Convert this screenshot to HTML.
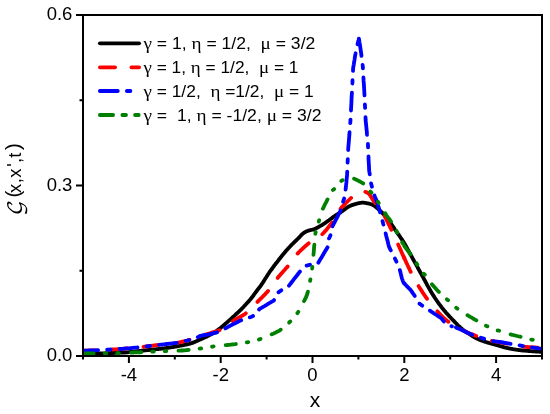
<!DOCTYPE html>
<html><head><meta charset="utf-8"><title>plot</title>
<style>html,body{margin:0;padding:0;background:#fff;width:550px;height:414px;overflow:hidden}svg{display:block}</style>
</head><body>
<svg width="550" height="414" viewBox="0 0 550 414">
<rect width="550" height="414" fill="#fff"/>
<defs><clipPath id="c"><rect x="83" y="13" width="459" height="343"/></clipPath></defs>
<g clip-path="url(#c)" fill="none" stroke-width="3.8" stroke-linecap="round" stroke-linejoin="round">
<path d="M83.0,353.5 83.6,353.5 84.3,353.5 85.2,353.5 86.1,353.5 87.1,353.5 88.2,353.5 89.4,353.5 90.6,353.5 91.8,353.5 93.0,353.5 94.3,353.5 95.5,353.5 96.7,353.4 97.9,353.4 99.0,353.4 100.0,353.4 101.0,353.4 102.0,353.4 103.0,353.3 104.0,353.3 105.0,353.3 105.9,353.2 106.9,353.2 107.9,353.2 108.8,353.1 109.7,353.1 110.7,353.1 111.6,353.0 112.4,353.0 113.3,353.0 114.2,352.9 115.0,352.9 115.8,352.9 116.6,352.8 117.3,352.8 118.0,352.8 118.7,352.8 119.4,352.8 120.1,352.7 120.7,352.7 121.4,352.7 122.0,352.7 122.7,352.6 123.4,352.6 124.1,352.6 124.8,352.5 125.5,352.5 126.3,352.4 127.1,352.3 127.9,352.3 128.7,352.2 129.6,352.1 130.5,352.0 131.3,351.9 132.2,351.8 133.1,351.7 134.0,351.6 134.9,351.5 135.8,351.4 136.7,351.3 137.5,351.2 138.4,351.1 139.2,351.0 140.0,350.9 140.8,350.8 141.6,350.7 142.3,350.7 143.1,350.6 143.8,350.5 144.6,350.4 145.3,350.4 146.0,350.3 146.7,350.2 147.5,350.1 148.2,350.1 148.9,350.0 149.6,349.9 150.3,349.9 151.1,349.8 151.8,349.7 152.5,349.6 153.3,349.5 154.0,349.5 154.7,349.4 155.5,349.3 156.2,349.2 157.0,349.2 157.7,349.1 158.4,349.0 159.2,348.9 159.9,348.8 160.6,348.8 161.4,348.7 162.1,348.6 162.9,348.5 163.6,348.4 164.3,348.3 165.1,348.2 165.8,348.1 166.6,348.0 167.3,347.9 168.1,347.8 168.8,347.7 169.6,347.6 170.3,347.4 171.0,347.3 171.8,347.2 172.5,347.1 173.3,347.0 174.0,346.9 174.8,346.7 175.5,346.6 176.3,346.5 177.0,346.3 177.8,346.2 178.6,346.0 179.4,345.9 180.2,345.7 181.0,345.6 181.8,345.4 182.6,345.3 183.3,345.1 184.1,345.0 184.8,344.8 185.5,344.7 186.1,344.6 186.7,344.4 187.3,344.3 187.8,344.2 188.3,344.1 188.8,344.0 189.2,343.9 189.5,343.8 189.9,343.7 190.2,343.6 190.6,343.5 190.9,343.4 191.2,343.3 191.5,343.2 191.8,343.1 192.1,343.0 192.5,342.9 192.8,342.7 193.2,342.6 193.6,342.4 194.0,342.3 194.4,342.1 194.8,342.0 195.2,341.8 195.6,341.6 196.0,341.4 196.4,341.2 196.9,341.0 197.3,340.8 197.7,340.6 198.2,340.4 198.6,340.2 199.1,340.0 199.5,339.8 200.0,339.6 200.5,339.4 201.0,339.2 201.5,338.9 202.0,338.7 202.5,338.5 203.0,338.3 203.6,338.0 204.1,337.8 204.6,337.5 205.2,337.3 205.7,337.0 206.3,336.8 206.8,336.5 207.3,336.2 207.9,336.0 208.4,335.7 208.9,335.4 209.5,335.1 210.0,334.9 210.5,334.6 211.1,334.3 211.6,334.0 212.1,333.7 212.7,333.4 213.2,333.1 213.7,332.8 214.2,332.4 214.8,332.1 215.3,331.8 215.8,331.4 216.4,331.1 216.9,330.7 217.4,330.3 218.0,329.9 218.5,329.5 219.0,329.1 219.5,328.7 220.1,328.3 220.6,327.9 221.1,327.5 221.6,327.0 222.1,326.6 222.7,326.1 223.2,325.7 223.7,325.3 224.2,324.8 224.8,324.4 225.3,323.9 225.8,323.4 226.4,323.0 226.9,322.5 227.5,322.0 228.0,321.5 228.6,321.0 229.1,320.5 229.7,320.0 230.2,319.5 230.8,319.1 231.3,318.6 231.8,318.1 232.3,317.6 232.8,317.2 233.3,316.7 233.8,316.3 234.3,315.9 234.7,315.5 235.2,315.0 235.6,314.6 236.0,314.2 236.5,313.8 236.9,313.4 237.3,313.1 237.7,312.7 238.1,312.3 238.4,312.0 238.8,311.7 239.1,311.3 239.4,311.0 239.7,310.8 240.0,310.5 240.2,310.3 240.4,310.1 240.6,310.0 240.7,309.9 240.8,309.8 240.8,309.7 240.9,309.7 241.0,309.6 241.0,309.6 241.1,309.5 241.2,309.4 241.3,309.3 241.4,309.1 241.6,308.9 241.9,308.6 242.2,308.3 242.6,307.9 243.0,307.5 243.5,307.0 244.0,306.4 244.5,305.8 245.1,305.2 245.6,304.6 246.2,303.9 246.9,303.3 247.5,302.6 248.1,301.9 248.7,301.3 249.2,300.6 249.8,300.0 250.3,299.4 250.8,298.8 251.3,298.2 251.7,297.7 252.1,297.1 252.6,296.6 253.0,296.0 253.4,295.5 253.8,295.0 254.1,294.4 254.5,293.9 254.9,293.4 255.3,292.9 255.6,292.4 256.0,291.9 256.3,291.4 256.7,291.0 257.0,290.5 257.3,290.1 257.6,289.7 257.9,289.3 258.2,288.9 258.5,288.6 258.7,288.3 259.0,287.9 259.3,287.6 259.5,287.3 259.8,286.9 260.1,286.6 260.4,286.2 260.7,285.8 261.0,285.3 261.3,284.8 261.7,284.3 262.1,283.7 262.5,283.1 262.9,282.5 263.3,281.8 263.8,281.1 264.2,280.3 264.7,279.6 265.2,278.8 265.7,278.0 266.2,277.3 266.7,276.5 267.2,275.7 267.7,274.9 268.2,274.1 268.8,273.3 269.3,272.5 269.8,271.7 270.4,270.9 271.0,270.1 271.6,269.3 272.2,268.5 272.8,267.7 273.4,266.8 274.0,266.0 274.6,265.2 275.3,264.3 275.9,263.5 276.5,262.7 277.2,261.9 277.8,261.1 278.4,260.3 279.0,259.5 279.6,258.7 280.2,258.0 280.8,257.2 281.4,256.5 282.0,255.7 282.6,255.0 283.2,254.2 283.8,253.5 284.5,252.8 285.1,252.0 285.7,251.3 286.3,250.6 286.9,249.9 287.5,249.2 288.1,248.6 288.7,247.9 289.3,247.2 290.0,246.6 290.6,245.9 291.3,245.2 291.9,244.5 292.6,243.9 293.3,243.2 293.9,242.6 294.6,241.9 295.2,241.3 295.8,240.7 296.4,240.2 296.9,239.6 297.5,239.1 298.0,238.6 298.4,238.2 298.8,237.8 299.2,237.4 299.5,237.1 299.8,236.8 300.0,236.5 300.3,236.2 300.5,236.0 300.7,235.7 300.9,235.5 301.1,235.3 301.2,235.1 301.4,234.9 301.6,234.8 301.8,234.6 302.0,234.4 302.2,234.2 302.4,234.0 302.6,233.8 302.8,233.7 303.0,233.5 303.2,233.3 303.4,233.2 303.6,233.0 303.8,232.9 304.0,232.8 304.2,232.6 304.4,232.5 304.6,232.4 304.8,232.3 305.1,232.1 305.3,232.0 305.5,231.9 305.7,231.8 306.0,231.7 306.2,231.5 306.4,231.4 306.7,231.3 306.9,231.2 307.2,231.1 307.4,231.0 307.7,230.9 307.9,230.8 308.2,230.7 308.5,230.6 308.7,230.6 309.0,230.5 309.2,230.4 309.5,230.3 309.8,230.2 310.0,230.2 310.3,230.1 310.6,230.0 310.8,230.0 311.1,229.9 311.4,229.9 311.6,229.8 311.9,229.8 312.2,229.7 312.5,229.7 312.7,229.6 313.0,229.5 313.3,229.5 313.5,229.4 313.8,229.3 314.1,229.2 314.3,229.1 314.6,229.0 314.8,228.9 315.1,228.8 315.3,228.7 315.5,228.6 315.8,228.5 316.0,228.3 316.3,228.2 316.6,228.1 316.8,227.9 317.1,227.8 317.4,227.6 317.7,227.5 318.0,227.3 318.3,227.1 318.7,226.9 319.0,226.7 319.4,226.5 319.7,226.3 320.1,226.1 320.5,225.9 320.9,225.6 321.3,225.4 321.7,225.2 322.1,224.9 322.5,224.7 322.8,224.4 323.2,224.2 323.6,223.9 324.0,223.7 324.4,223.5 324.8,223.2 325.1,222.9 325.5,222.7 325.9,222.4 326.3,222.1 326.7,221.9 327.1,221.6 327.4,221.3 327.8,221.1 328.2,220.8 328.6,220.5 328.9,220.3 329.3,220.0 329.7,219.7 330.0,219.5 330.3,219.3 330.7,219.0 331.0,218.8 331.3,218.5 331.6,218.3 331.9,218.1 332.2,217.9 332.5,217.6 332.8,217.4 333.1,217.2 333.4,217.0 333.7,216.7 334.0,216.5 334.3,216.3 334.7,216.0 335.0,215.8 335.4,215.6 335.7,215.3 336.1,215.1 336.5,214.8 336.8,214.6 337.2,214.4 337.6,214.1 338.0,213.9 338.4,213.6 338.8,213.4 339.2,213.1 339.6,212.9 340.0,212.6 340.5,212.4 340.9,212.1 341.3,211.8 341.7,211.5 342.2,211.2 342.6,210.9 343.1,210.5 343.5,210.2 344.0,209.9 344.4,209.5 344.9,209.2 345.4,208.8 345.8,208.5 346.3,208.1 346.7,207.8 347.2,207.5 347.6,207.2 348.1,206.9 348.5,206.7 348.9,206.5 349.3,206.3 349.8,206.1 350.2,205.9 350.6,205.7 351.0,205.5 351.4,205.4 351.8,205.2 352.2,205.1 352.6,204.9 353.0,204.8 353.4,204.7 353.8,204.6 354.2,204.4 354.6,204.3 355.0,204.2 355.4,204.1 355.9,203.9 356.3,203.8 356.7,203.7 357.2,203.6 357.6,203.5 358.0,203.3 358.5,203.2 358.9,203.1 359.4,203.0 359.8,203.0 360.3,202.9 360.7,202.8 361.1,202.8 361.6,202.7 362.0,202.7 362.4,202.7 362.9,202.7 363.3,202.7 363.7,202.7 364.2,202.8 364.6,202.8 365.1,202.9 365.5,202.9 365.9,203.0 366.3,203.1 366.8,203.2 367.2,203.3 367.6,203.3 368.0,203.4 368.3,203.5 368.7,203.6 369.0,203.7 369.4,203.7 369.7,203.8 370.0,203.9 370.3,203.9 370.5,204.0 370.8,204.1 371.1,204.1 371.3,204.2 371.6,204.3 371.9,204.4 372.2,204.6 372.5,204.7 372.8,204.9 373.1,205.1 373.5,205.3 373.9,205.6 374.3,205.8 374.7,206.1 375.1,206.5 375.6,206.8 376.0,207.1 376.5,207.5 376.9,207.9 377.4,208.3 377.9,208.7 378.4,209.1 378.8,209.6 379.3,210.0 379.8,210.4 380.2,210.9 380.7,211.3 381.2,211.7 381.6,212.2 382.1,212.6 382.5,213.1 383.0,213.6 383.5,214.1 383.9,214.6 384.4,215.1 384.8,215.6 385.3,216.1 385.8,216.6 386.2,217.1 386.7,217.6 387.1,218.2 387.6,218.7 388.0,219.3 388.4,219.9 388.9,220.4 389.3,221.0 389.7,221.6 390.1,222.2 390.5,222.8 390.9,223.4 391.3,224.0 391.7,224.6 392.1,225.3 392.6,225.9 393.0,226.6 393.4,227.2 393.9,227.9 394.3,228.6 394.8,229.3 395.3,230.0 395.8,230.7 396.3,231.5 396.8,232.2 397.4,233.0 397.9,233.8 398.5,234.5 399.1,235.3 399.6,236.1 400.2,236.9 400.7,237.7 401.3,238.6 401.8,239.4 402.4,240.2 402.9,241.0 403.4,241.8 403.9,242.6 404.4,243.4 404.8,244.2 405.3,244.9 405.7,245.7 406.1,246.5 406.6,247.3 407.0,248.1 407.4,248.9 407.9,249.7 408.3,250.5 408.8,251.4 409.3,252.3 409.8,253.2 410.3,254.2 410.9,255.2 411.5,256.3 412.1,257.4 412.7,258.5 413.4,259.7 414.0,260.9 414.7,262.1 415.4,263.4 416.1,264.6 416.8,265.9 417.5,267.2 418.2,268.5 418.9,269.8 419.6,271.0 420.3,272.3 421.0,273.6 421.7,274.8 422.4,276.0 423.1,277.3 423.7,278.5 424.4,279.8 425.1,281.0 425.8,282.3 426.5,283.6 427.1,284.8 427.8,286.1 428.5,287.3 429.2,288.5 429.9,289.7 430.6,290.9 431.2,292.1 431.9,293.2 432.6,294.3 433.3,295.4 434.0,296.4 434.6,297.5 435.3,298.5 436.0,299.5 436.7,300.5 437.4,301.5 438.0,302.4 438.7,303.3 439.4,304.3 440.1,305.2 440.8,306.1 441.4,307.0 442.1,307.9 442.8,308.7 443.5,309.6 444.2,310.5 444.9,311.3 445.6,312.1 446.3,313.0 447.1,313.8 447.8,314.6 448.5,315.4 449.3,316.2 450.0,317.0 450.7,317.7 451.4,318.5 452.1,319.2 452.7,319.9 453.4,320.5 454.0,321.2 454.6,321.8 455.2,322.4 455.7,323.0 456.2,323.5 456.8,324.0 457.2,324.5 457.7,325.0 458.2,325.5 458.6,325.9 459.1,326.3 459.5,326.7 460.0,327.2 460.4,327.6 460.8,327.9 461.3,328.3 461.7,328.7 462.2,329.1 462.7,329.5 463.1,329.8 463.6,330.2 464.0,330.5 464.5,330.9 465.0,331.2 465.4,331.5 465.9,331.8 466.3,332.1 466.8,332.4 467.2,332.7 467.7,332.9 468.1,333.2 468.6,333.5 469.0,333.8 469.5,334.1 470.0,334.4 470.4,334.7 470.9,335.0 471.3,335.3 471.8,335.6 472.2,335.9 472.7,336.1 473.1,336.4 473.5,336.7 474.0,337.0 474.4,337.3 474.9,337.5 475.3,337.8 475.8,338.0 476.2,338.3 476.7,338.5 477.2,338.7 477.6,338.9 478.1,339.1 478.5,339.3 479.0,339.5 479.4,339.7 479.9,339.9 480.4,340.1 480.8,340.3 481.3,340.4 481.7,340.6 482.2,340.8 482.6,340.9 483.1,341.1 483.5,341.2 484.0,341.4 484.5,341.6 484.9,341.7 485.4,341.9 485.8,342.0 486.3,342.1 486.7,342.3 487.2,342.4 487.6,342.6 488.0,342.7 488.5,342.8 488.9,343.0 489.4,343.1 489.8,343.2 490.3,343.3 490.7,343.5 491.2,343.6 491.7,343.7 492.1,343.9 492.6,344.0 493.0,344.1 493.5,344.2 493.9,344.4 494.4,344.5 494.9,344.6 495.3,344.7 495.8,344.9 496.2,345.0 496.7,345.1 497.2,345.2 497.6,345.4 498.1,345.5 498.5,345.6 498.9,345.7 499.4,345.9 499.8,346.0 500.2,346.1 500.6,346.2 501.0,346.4 501.4,346.5 501.8,346.6 502.2,346.7 502.6,346.9 503.0,347.0 503.4,347.1 503.9,347.2 504.4,347.4 504.9,347.5 505.4,347.6 506.0,347.7 506.5,347.9 507.1,348.0 507.8,348.1 508.4,348.3 509.0,348.4 509.7,348.5 510.4,348.7 511.1,348.8 511.7,348.9 512.4,349.0 513.1,349.2 513.8,349.3 514.5,349.4 515.1,349.5 515.8,349.6 516.4,349.7 517.1,349.8 517.7,349.9 518.3,350.0 518.9,350.0 519.5,350.1 520.1,350.2 520.7,350.3 521.3,350.3 521.9,350.4 522.6,350.5 523.2,350.5 523.9,350.6 524.6,350.7 525.4,350.7 526.2,350.8 527.1,350.9 528.0,350.9 529.1,351.0 530.1,351.1 531.3,351.2 532.4,351.3 533.6,351.3 534.8,351.4 535.9,351.5 537.0,351.6 538.0,351.6 539.0,351.7 539.9,351.8 540.7,351.8 541.4,351.9 542.0,351.9" stroke="#000"/>
<path d="M83.0,350.8 83.6,350.8 84.3,350.7 85.1,350.7 86.0,350.7 86.9,350.6 88.0,350.6 89.1,350.6 90.2,350.5 91.4,350.5 92.6,350.4 93.8,350.4 95.1,350.3 96.3,350.3 97.4,350.2 98.6,350.2 99.7,350.1 100.8,350.1 101.9,350.0 103.0,350.0 104.1,349.9 105.2,349.9 106.3,349.8 107.4,349.8 108.5,349.7 109.7,349.6 110.8,349.6 111.9,349.5 113.0,349.5 114.2,349.4 115.3,349.3 116.4,349.3 117.5,349.2 118.6,349.1 119.8,349.0 120.9,349.0 122.1,348.9 123.3,348.8 124.5,348.7 125.6,348.6 126.8,348.5 128.0,348.4 129.1,348.3 130.2,348.2 131.3,348.1 132.3,348.0 133.3,347.9 134.3,347.8 135.2,347.7 136.0,347.6 136.8,347.5 137.5,347.5 138.2,347.4 138.8,347.3 139.4,347.3 139.9,347.2 140.5,347.1 141.0,347.1 141.6,347.0 142.2,346.9 142.8,346.9 143.5,346.8 144.2,346.7 145.0,346.6 145.8,346.5 146.7,346.4 147.7,346.3 148.8,346.1 149.9,346.0 151.0,345.9 152.2,345.7 153.4,345.6 154.6,345.4 155.8,345.2 157.0,345.1 158.2,344.9 159.4,344.8 160.5,344.7 161.6,344.5 162.6,344.4 163.6,344.3 164.5,344.2 165.4,344.1 166.2,344.0 167.0,344.0 167.8,343.9 168.5,343.8 169.2,343.8 169.9,343.7 170.6,343.7 171.3,343.6 172.0,343.5 172.7,343.5 173.4,343.4 174.1,343.3 174.8,343.2 175.5,343.1 176.2,343.0 177.0,342.8 177.8,342.7 178.5,342.6 179.3,342.4 180.0,342.2 180.8,342.1 181.6,341.9 182.3,341.7 183.1,341.5 183.8,341.4 184.5,341.2 185.2,341.0 185.9,340.8 186.6,340.7 187.3,340.5 188.0,340.3 188.6,340.2 189.2,340.0 189.8,339.8 190.5,339.7 191.0,339.5 191.6,339.3 192.2,339.2 192.8,339.0 193.4,338.8 193.9,338.7 194.5,338.5 195.0,338.3 195.6,338.2 196.1,338.0 196.7,337.8 197.3,337.6 197.8,337.4 198.4,337.2 198.9,337.0 199.5,336.8 200.0,336.6 200.6,336.4 201.1,336.2 201.6,336.0 202.2,335.8 202.7,335.6 203.2,335.5 203.7,335.3 204.1,335.1 204.6,334.9 205.0,334.8 205.4,334.7 205.7,334.6 206.1,334.5 206.3,334.4 206.6,334.3 206.8,334.2 207.1,334.1 207.3,334.1 207.6,334.0 207.8,333.9 208.1,333.8 208.4,333.8 208.8,333.6 209.2,333.5 209.6,333.4 210.1,333.2 210.7,333.0 211.3,332.8 211.9,332.6 212.6,332.4 213.3,332.2 214.1,332.0 214.8,331.8 215.6,331.5 216.4,331.3 217.2,331.0 218.1,330.7 218.9,330.4 219.7,330.1 220.5,329.7 221.2,329.4 222.0,329.0 222.8,328.6 223.5,328.1 224.3,327.6 225.1,327.1 225.9,326.5 226.7,325.9 227.5,325.3 228.3,324.7 229.0,324.1 229.8,323.5 230.5,322.9 231.2,322.4 231.9,321.8 232.6,321.4 233.2,320.9 233.8,320.5 234.3,320.1 234.8,319.8 235.3,319.5 235.7,319.3 236.1,319.1 236.5,318.9 236.9,318.7 237.2,318.5 237.6,318.3 237.9,318.2 238.2,318.0 238.6,317.8 238.9,317.6 239.2,317.4 239.6,317.2 240.0,317.0 240.4,316.8 240.8,316.5 241.1,316.3 241.5,316.1 241.9,315.9 242.2,315.7 242.6,315.5 243.0,315.3 243.4,315.0 243.8,314.8 244.2,314.5 244.6,314.2 245.0,313.9 245.5,313.5 246.0,313.1 246.5,312.7 247.0,312.2 247.6,311.7 248.2,311.2 248.8,310.6 249.4,310.0 250.0,309.4 250.7,308.7 251.3,308.1 252.0,307.4 252.7,306.7 253.4,306.0 254.0,305.3 254.7,304.6 255.4,303.9 256.1,303.2 256.8,302.5 257.5,301.8 258.2,301.1 258.9,300.4 259.7,299.6 260.4,298.9 261.2,298.2 261.9,297.4 262.7,296.7 263.5,295.9 264.2,295.2 265.0,294.4 265.7,293.6 266.4,292.8 267.1,292.1 267.8,291.3 268.5,290.5 269.2,289.7 269.8,288.9 270.4,288.1 271.0,287.3 271.6,286.5 272.2,285.6 272.8,284.8 273.4,284.0 273.9,283.1 274.5,282.3 275.1,281.5 275.6,280.7 276.2,279.9 276.8,279.1 277.4,278.3 278.0,277.5 278.6,276.7 279.2,276.0 279.9,275.2 280.5,274.5 281.1,273.8 281.8,273.1 282.4,272.4 283.1,271.6 283.7,270.9 284.3,270.2 285.0,269.5 285.6,268.8 286.2,268.1 286.8,267.4 287.4,266.7 288.0,266.0 288.6,265.3 289.1,264.6 289.6,263.9 290.1,263.2 290.6,262.5 291.1,261.8 291.6,261.1 292.0,260.4 292.5,259.7 293.0,259.0 293.5,258.3 294.1,257.6 294.6,256.9 295.2,256.2 295.8,255.4 296.5,254.7 297.2,253.9 298.0,253.2 298.8,252.3 299.6,251.5 300.4,250.7 301.3,249.8 302.2,249.0 303.1,248.2 304.0,247.3 304.9,246.5 305.8,245.7 306.7,245.0 307.6,244.2 308.4,243.5 309.2,242.8 310.0,242.2 310.8,241.6 311.5,241.1 312.2,240.6 312.9,240.2 313.6,239.8 314.3,239.5 315.0,239.1 315.7,238.8 316.4,238.4 317.0,238.1 317.7,237.7 318.4,237.3 319.0,236.9 319.7,236.5 320.3,236.0 321.0,235.4 321.7,234.8 322.3,234.2 323.0,233.5 323.6,232.9 324.3,232.2 324.9,231.4 325.6,230.7 326.2,230.0 326.9,229.2 327.5,228.4 328.1,227.6 328.8,226.8 329.4,226.0 330.0,225.2 330.6,224.4 331.2,223.6 331.8,222.8 332.4,221.9 332.9,221.0 333.5,220.2 334.0,219.2 334.5,218.3 335.1,217.4 335.6,216.5 336.1,215.5 336.7,214.6 337.2,213.7 337.7,212.8 338.3,212.0 338.9,211.1 339.4,210.3 340.0,209.5 340.6,208.7 341.2,208.0 341.8,207.2 342.5,206.5 343.1,205.8 343.8,205.1 344.5,204.4 345.1,203.7 345.8,203.1 346.4,202.4 347.1,201.8 347.7,201.2 348.3,200.6 348.9,200.1 349.5,199.5 350.0,199.0 350.5,198.5 351.0,198.0 351.5,197.5 352.0,197.1 352.4,196.6 352.8,196.2 353.3,195.8 353.7,195.4 354.1,195.1 354.5,194.7 354.9,194.4 355.3,194.1 355.7,193.8 356.1,193.5 356.6,193.2 357.0,193.0 357.4,192.8 357.9,192.6 358.3,192.4 358.8,192.3 359.3,192.1 359.7,192.0 360.2,191.9 360.6,191.8 361.1,191.8 361.5,191.7 362.0,191.7 362.4,191.7 362.8,191.7 363.2,191.7 363.6,191.7 364.0,191.7 364.4,191.7 364.7,191.8 365.1,191.8 365.4,191.9 365.7,192.0 366.0,192.1 366.3,192.2 366.6,192.3 366.9,192.4 367.2,192.6 367.5,192.8 367.8,193.0 368.1,193.2 368.4,193.4 368.7,193.7 369.0,194.0 369.3,194.3 369.6,194.7 369.9,195.0 370.2,195.4 370.4,195.8 370.7,196.3 371.0,196.7 371.3,197.2 371.6,197.7 371.9,198.2 372.2,198.7 372.5,199.3 372.8,199.8 373.2,200.4 373.6,200.9 374.0,201.5 374.4,202.1 374.9,202.7 375.4,203.3 375.9,203.9 376.4,204.6 377.0,205.2 377.5,205.9 378.1,206.5 378.6,207.2 379.2,207.9 379.8,208.7 380.3,209.4 380.9,210.2 381.5,210.9 382.0,211.7 382.5,212.5 383.0,213.3 383.5,214.2 384.0,215.0 384.5,215.9 385.0,216.8 385.5,217.8 386.0,218.7 386.5,219.7 386.9,220.6 387.4,221.6 387.9,222.6 388.4,223.5 388.8,224.5 389.3,225.4 389.7,226.4 390.2,227.3 390.6,228.2 391.1,229.1 391.4,229.9 391.8,230.7 392.2,231.5 392.6,232.2 392.9,233.0 393.3,233.8 393.7,234.7 394.1,235.5 394.5,236.4 394.9,237.4 395.4,238.4 395.9,239.5 396.4,240.7 397.0,242.0 397.6,243.4 398.4,245.0 399.1,246.6 399.9,248.4 400.8,250.3 401.6,252.2 402.5,254.2 403.4,256.1 404.3,258.1 404.3,258.1" stroke="#f00" stroke-dasharray="15.2 16.3" stroke-dashoffset="2.30"/>
<path d="M404.3,258.1 405.2,260.0 406.0,261.9 406.9,263.8 407.7,265.5 408.5,267.1 409.2,268.6 409.8,270.0 410.4,271.2 410.9,272.3 411.4,273.3 411.8,274.2 412.2,275.0 412.6,275.8 413.0,276.5 413.4,277.1 413.7,277.8 414.0,278.4 414.4,279.0 414.8,279.6 415.2,280.3 415.6,281.0 416.0,281.8 416.5,282.6 417.0,283.5 417.6,284.4 418.1,285.3 418.7,286.3 419.3,287.2 419.9,288.2 420.5,289.2 421.2,290.2 421.8,291.1 422.4,292.1 423.1,293.1 423.7,294.0 424.3,294.9 424.9,295.8 425.5,296.7 426.1,297.5 426.7,298.3 427.2,299.1 427.8,299.8 428.3,300.5 428.8,301.2 429.4,301.9 429.9,302.6 430.4,303.2 430.9,303.9 431.5,304.5 432.0,305.1 432.5,305.8 433.1,306.4 433.6,307.1 434.2,307.7 434.8,308.4 435.4,309.1 436.0,309.8 436.6,310.5 437.2,311.2 437.9,311.9 438.5,312.6 439.1,313.3 439.8,313.9 440.4,314.6 441.1,315.3 441.8,316.0 442.4,316.7 443.1,317.3 443.8,318.0 444.5,318.6 445.2,319.2 445.9,319.8 446.6,320.4 447.3,321.0 448.0,321.5 448.7,322.1 449.4,322.6 450.1,323.1 450.8,323.7 451.5,324.2 452.3,324.7 453.0,325.2 453.8,325.7 454.6,326.2 455.5,326.7 456.3,327.2 457.2,327.7 458.1,328.2 459.1,328.7 460.1,329.2 461.1,329.7 462.1,330.1 463.2,330.6 464.3,331.1 465.4,331.6 466.5,332.0 467.6,332.5 468.7,332.9 469.8,333.4 470.8,333.8 471.9,334.2 472.9,334.6 473.9,335.0 474.9,335.4 475.8,335.8 476.8,336.1 477.7,336.5 478.6,336.9 479.5,337.2 480.4,337.5 481.2,337.9 482.1,338.2 483.0,338.5 483.9,338.8 484.8,339.1 485.7,339.4 486.7,339.7 487.6,339.9 488.6,340.2 489.6,340.5 490.6,340.7 491.6,340.9 492.7,341.1 493.7,341.3 494.8,341.5 495.9,341.7 497.0,341.9 498.0,342.1 499.1,342.2 500.2,342.4 501.2,342.6 502.3,342.8 503.3,342.9 504.3,343.1 505.3,343.3 506.3,343.5 507.2,343.7 508.1,343.9 508.9,344.1 509.8,344.3 510.6,344.5 511.5,344.7 512.3,344.9 513.2,345.1 514.0,345.3 514.9,345.5 515.9,345.6 516.8,345.8 517.8,346.0 518.9,346.1 520.0,346.3 521.2,346.4 522.6,346.6 524.0,346.7 525.5,346.9 527.1,347.0 528.7,347.1 530.3,347.2 531.9,347.3 533.5,347.4 535.0,347.5 536.5,347.6 537.9,347.7 539.1,347.8 540.3,347.9 541.2,347.9 542.0,348.0" stroke="#f00" stroke-dasharray="15.2 16.3" stroke-dashoffset="0.00"/>
<path d="M83.0,350.8 85.1,350.7 87.2,350.6 89.3,350.5 91.3,350.5 93.4,350.4 95.5,350.3 97.6,350.2 99.7,350.1 101.9,350.0 104.2,349.9 106.4,349.8 108.6,349.6 110.8,349.5 113.0,349.4 115.3,349.3 117.5,349.2 119.7,349.0 121.9,348.8 124.1,348.6 126.3,348.4 128.6,348.3 130.8,348.1 133.0,347.9 135.2,347.7 136.5,347.6 137.8,347.4 139.2,347.2 140.5,347.1 141.8,346.9 143.2,346.8 144.5,346.6 145.8,346.5 148.0,346.2 150.2,345.9 152.5,345.7 154.7,345.4 156.9,345.1 159.2,344.9 161.4,344.6 163.6,344.3 165.1,344.2 166.6,344.0 168.1,343.9 169.6,343.7 171.0,343.6 172.5,343.4 174.0,343.2 175.5,343.1 177.0,342.8 178.4,342.5 179.9,342.1 181.4,341.8 182.9,341.5 184.4,341.1 185.8,340.8 187.3,340.5 188.5,340.2 189.7,339.8 190.8,339.5 192.0,339.1 193.2,338.8 194.3,338.5 195.5,338.1 196.7,337.8 197.1,337.6 197.5,337.3 197.9,337.1 198.3,336.9 198.8,336.6 199.2,336.4 199.6,336.1 200.0,335.9 201.3,335.7 202.5,335.4 203.8,335.2 205.1,335.0 206.3,334.8 207.6,334.6 208.8,334.3 210.1,334.1 210.9,333.9 211.8,333.7 212.7,333.5 213.5,333.2 214.0,333.1" stroke="#00f" stroke-dasharray="17.9 9.1 3.5 9.1" stroke-dashoffset="2.80"/>
<path d="M214.0,333.1 214.3,333.0 215.2,332.8 216.1,332.6 216.9,332.4 217.4,332.2 217.9,332.0 218.5,331.8 219.0,331.5 219.5,331.3 220.1,331.1 220.6,330.9 221.1,330.7 222.3,330.1 223.4,329.4 224.6,328.8 225.8,328.1 226.9,327.5 228.1,326.9 229.2,326.2 230.4,325.6 231.6,325.0 232.8,324.4 234.0,323.8 235.2,323.2 236.4,322.6 237.6,322.0 238.8,321.4 240.0,320.8 240.5,320.6 240.9,320.4 241.4,320.2 241.9,320.0 242.4,319.7 242.9,319.5 243.3,319.3 243.8,319.1 244.7,318.8 245.6,318.6 246.5,318.3 247.4,318.1 248.2,317.8 249.1,317.5 250.0,317.3 250.9,317.0 251.4,316.8 251.8,316.6 252.3,316.4 252.8,316.1 253.3,315.9 253.8,315.7 254.2,315.5 254.7,315.3 255.0,314.9 255.3,314.5 255.6,314.1 255.9,313.6 256.3,313.2 256.6,312.8 256.9,312.4 257.2,312.0 257.5,311.6 257.8,311.2 258.1,310.8 258.4,310.4 258.7,310.0 259.0,309.6 259.3,309.2 259.6,308.8 261.4,307.8 263.1,306.8 264.9,305.8 266.6,304.8 268.4,303.7 270.2,302.7 271.9,301.7 273.7,300.7 273.9,300.2 274.2,299.8 274.4,299.3 274.6,298.9 274.9,298.4 275.1,297.9 275.4,297.5 275.6,297.0 275.8,296.5 276.1,296.0 276.3,295.5 276.6,295.0 276.8,294.5 277.0,294.0 277.3,293.5 277.5,293.0 278.0,292.7 278.4,292.3 278.9,292.0 279.4,291.6 279.9,291.3 280.4,291.0 280.8,290.6 281.3,290.3 282.1,289.9 283.0,289.5 283.8,289.1 284.6,288.6 285.5,288.2 286.3,287.8 287.2,287.4 288.0,287.0 289.4,285.1 290.9,283.2 292.4,281.3 293.8,279.4 295.2,277.6 296.7,275.7 298.2,273.8 299.6,271.9 300.2,271.3 300.7,270.7 301.2,270.1 301.8,269.4 302.4,268.8 302.9,268.2 303.4,267.6 304.0,267.0 304.2,266.9 304.5,266.7 304.8,266.6 305.0,266.4 305.2,266.2 305.5,266.1 305.8,265.9 306.0,265.8 306.5,265.7 307.1,265.5 307.6,265.4 308.1,265.2 308.7,265.1 309.2,264.9 309.8,264.8 310.3,264.6 311.2,264.5 312.1,264.4 313.0,264.3 314.0,264.2 314.9,264.2 315.8,264.1 316.7,264.0 317.6,263.9 318.9,261.7 320.2,259.5 321.5,257.4 322.8,255.2 324.1,253.0 325.4,250.8 326.7,248.7 328.0,246.5 328.1,245.5 328.2,244.5 328.4,243.5 328.5,242.5 328.6,241.5 328.8,240.5 328.9,239.5 329.0,238.5 329.2,237.9 329.5,237.4 329.8,236.8 330.0,236.3 330.2,235.8 330.5,235.2 330.8,234.7 331.0,234.1 331.2,233.1 331.4,232.1 331.6,231.1 331.8,230.1 331.9,229.2 332.1,228.2 332.3,227.2 332.5,226.2 333.6,224.1 334.7,222.0 335.8,219.9 336.9,217.8 337.9,215.8 339.0,213.7 340.1,211.6 341.2,209.5 341.5,208.4 341.8,207.3 342.0,206.2 342.3,205.2 342.6,204.1 342.8,203.0 343.1,201.9 343.4,200.8 343.6,200.2 343.8,199.7 343.9,199.2 344.1,198.6 344.3,198.1 344.4,197.5 344.6,197.0 344.8,196.4 344.9,195.5 345.0,194.7 345.1,193.8 345.2,192.9 345.3,192.1 345.4,191.2 345.5,190.4 345.6,189.5 345.8,187.7 346.0,185.9 346.2,184.1 346.4,182.2 346.5,180.4 346.7,178.6 346.9,176.8 347.1,175.0 347.2,171.8 347.4,168.5 347.5,165.2 347.6,162.0 347.8,158.8 347.9,155.5 348.1,152.2 348.2,149.0 348.5,145.4 348.8,141.8 349.1,138.1 349.4,134.5 349.6,130.9 349.9,127.2 350.2,123.6 350.5,120.0 350.7,116.6 350.9,113.2 351.0,109.8 351.2,106.4 351.4,103.0 351.5,99.6 351.7,96.2 351.9,92.8 352.0,89.8 352.2,86.8 352.4,83.7 352.5,80.7 352.6,77.7 352.8,74.6 353.0,71.6 353.1,68.6 353.4,66.5 353.8,64.3 354.1,62.2 354.5,60.0 354.8,57.9 355.1,55.8 355.5,53.6 355.8,51.5 356.2,49.9 356.6,48.3 357.0,46.7 357.4,45.0 357.7,43.4 358.1,41.8 358.5,40.2 358.9,38.6" stroke="#00f" stroke-dasharray="17.9 9.1 3.5 9.1" stroke-dashoffset="27.31"/>
<path d="M358.9,38.6 358.9,38.6 359.1,39.9 359.3,41.3 359.5,42.6 359.8,44.0 360.0,45.3 360.2,46.6 360.4,48.0 360.6,49.3 360.9,51.4 361.2,53.5 361.4,55.6 361.7,57.8 362.0,59.9 362.2,62.0 362.5,64.1 362.8,66.2 363.0,69.8 363.2,73.5 363.4,77.1 363.6,80.7 363.9,84.3 364.1,88.0 364.3,91.6 364.5,95.2 364.6,98.3 364.8,101.4 364.9,104.5 365.1,107.6 365.2,110.7 365.3,113.8 365.5,116.9 365.6,120.0 365.9,122.9 366.2,125.8 366.5,128.7 366.8,131.6 367.0,134.5 367.3,137.4 367.6,140.3 367.9,143.2 368.0,146.5 368.2,149.9 368.4,153.2 368.5,156.6 368.6,159.9 368.8,163.3 369.0,166.7 369.1,170.0 369.3,171.6 369.6,173.2 369.8,174.8 370.1,176.4 370.3,178.1 370.5,179.7 370.8,181.3 371.0,182.9 371.2,184.0 371.5,185.1 371.8,186.2 372.0,187.2 372.2,188.3 372.5,189.4 372.8,190.5 373.0,191.6 373.6,193.0 374.1,194.5 374.6,195.9 375.2,197.4 375.8,198.8 376.3,200.3 376.8,201.8 377.4,203.2 377.9,205.0 378.5,206.8 379.0,208.6 379.5,210.4 380.1,212.3 380.6,214.1 381.2,215.9 381.7,217.7 382.1,219.1 382.4,220.6 382.8,222.1 383.1,223.5 383.5,224.9 383.9,226.4 384.2,227.9 384.6,229.3 385.2,231.5 385.7,233.7 386.2,235.8 386.8,238.0 387.4,240.2 387.9,242.3 388.4,244.5 389.0,246.7 389.7,248.1 390.4,249.6 391.2,251.1 391.9,252.5 392.6,253.9 393.4,255.4 394.1,256.9 394.8,258.3 395.3,259.4 395.9,260.5 396.4,261.6 397.0,262.6 397.5,263.7 398.0,264.8 398.6,265.9 399.1,267.0 399.5,268.4 399.8,269.9 400.2,271.4 400.6,272.8 400.9,274.2 401.3,275.7 401.6,277.2 402.0,278.6 402.2,279.1 402.4,279.6 402.6,280.1 402.8,280.6 402.9,281.1 403.1,281.6 403.3,282.1 403.5,282.6 404.3,283.4" stroke="#00f" stroke-dasharray="17.9 9.1 3.5 9.1" stroke-dashoffset="0.40"/>
<path d="M404.3,283.4 404.4,283.5 405.3,284.5 406.2,285.4 407.1,286.4 408.0,287.3 408.9,288.2 409.8,289.2 410.7,290.1 411.3,290.9 411.8,291.7 412.4,292.5 412.9,293.3 413.5,294.1 414.1,294.9 414.6,295.7 415.2,296.5 415.6,297.3 416.0,298.1 416.4,298.9 416.9,299.8 417.3,300.6 417.7,301.4 418.1,302.2 418.5,303.0 418.9,303.3 419.3,303.6 419.7,303.8 420.1,304.1 420.5,304.4 420.9,304.6 421.3,304.9 421.7,305.2 422.5,305.8 423.4,306.3 424.2,306.9 425.0,307.4 425.8,307.9 426.6,308.5 427.5,309.1 428.3,309.6 429.9,310.7 431.6,311.8 433.2,312.9 434.8,314.0 436.4,315.0 438.1,316.1 439.7,317.2 441.3,318.3 441.9,319.0 442.4,319.6 442.9,320.3 443.5,321.0 444.1,321.7 444.6,322.4 445.1,323.0 445.7,323.7 446.2,324.0 446.8,324.2 447.3,324.5 447.9,324.8 448.4,325.1 448.9,325.3 449.5,325.6 450.0,325.9 450.7,326.1 451.4,326.2 452.0,326.4" stroke="#00f" stroke-dasharray="17.9 9.1 3.5 9.1" stroke-dashoffset="1.50"/>
<path d="M452.0,326.4 452.0,326.4 452.7,326.5 453.4,326.7 454.0,326.9 454.7,327.0 455.4,327.2 457.5,328.2 459.6,329.1 461.8,330.1 463.9,331.0 466.0,332.0 468.1,333.0 470.3,333.9 472.4,334.9 474.5,335.6 476.5,336.3 478.6,337.0 480.7,337.7 482.8,338.4 484.9,339.1 486.9,339.8 489.0,340.5 491.0,340.8 493.0,341.1 495.0,341.4 497.0,341.6 499.0,341.9 501.0,342.2 503.0,342.5 505.0,342.8 507.9,343.3 510.8,343.9 513.6,344.4 516.5,344.9 519.4,345.4 522.2,345.9 525.1,346.5 528.0,347.0 529.8,347.2 531.5,347.4 533.2,347.7 535.0,347.9 536.8,348.1 538.5,348.4 540.2,348.6 542.0,348.8" stroke="#00f" stroke-dasharray="17.9 9.1 3.5 9.1" stroke-dashoffset="35.57"/>
<path d="M83.0,353.4 83.6,353.4 84.3,353.4 85.1,353.4 86.0,353.4 86.9,353.4 88.0,353.4 89.1,353.4 90.2,353.4 91.4,353.4 92.6,353.4 93.8,353.4 95.1,353.4 96.3,353.4 97.4,353.4 98.6,353.4 99.7,353.4 100.8,353.4 101.9,353.4 103.0,353.4 104.1,353.4 105.2,353.3 106.3,353.3 107.4,353.3 108.5,353.3 109.7,353.3 110.8,353.3 111.9,353.2 113.0,353.2 114.2,353.2 115.3,353.2 116.4,353.1 117.5,353.1 118.6,353.1 119.8,353.0 120.9,353.0 122.1,352.9 123.3,352.9 124.5,352.8 125.6,352.8 126.8,352.8 128.0,352.7 129.1,352.7 130.2,352.6 131.3,352.6 132.3,352.5 133.3,352.5 134.3,352.4 135.2,352.4 136.1,352.4 136.9,352.3 137.6,352.3 138.4,352.3 139.1,352.3 139.7,352.3 140.4,352.3 141.0,352.2 141.6,352.2 142.2,352.2 142.8,352.2 143.4,352.2 144.0,352.2 144.6,352.1 145.2,352.1 145.8,352.1 146.4,352.1 147.0,352.0 147.6,352.0 148.2,352.0 148.8,351.9 149.4,351.9 150.0,351.8 150.5,351.8 151.1,351.8 151.7,351.7 152.3,351.7 152.9,351.6 153.5,351.6 154.1,351.6 154.7,351.5 155.4,351.5 156.1,351.5 156.7,351.4 157.4,351.4 158.1,351.4 158.8,351.4 159.5,351.3 160.2,351.3 160.9,351.3 161.6,351.3 162.3,351.3 163.1,351.2 163.9,351.2 164.7,351.2 165.5,351.2 166.3,351.1 167.2,351.1 168.1,351.1 169.0,351.0 170.0,351.0 171.0,351.0 172.0,350.9 173.1,350.9 174.1,350.9 175.2,350.8 176.2,350.8 177.3,350.8 178.4,350.7 179.5,350.7 180.6,350.6 181.6,350.5 182.7,350.5 183.7,350.4 184.7,350.3 185.7,350.2 186.8,350.1 187.8,350.0 188.8,349.9 189.8,349.8 190.8,349.7 191.8,349.6 192.8,349.5 193.9,349.4 194.9,349.3 195.9,349.1 196.9,349.0 197.9,348.9 199.0,348.7 200.0,348.6 201.0,348.5 202.1,348.3 203.1,348.1 204.2,348.0 205.2,347.8 206.3,347.6 207.4,347.5 208.4,347.3 209.5,347.1 210.5,346.9 211.6,346.8 212.7,346.6 213.7,346.4 214.8,346.3 215.8,346.1 216.9,346.0 218.0,345.9 219.0,345.8 220.1,345.6 221.1,345.5 222.2,345.4 223.2,345.3 224.3,345.2 225.3,345.1 226.4,345.1 227.5,345.0 228.5,344.9 229.6,344.8 230.6,344.7 231.7,344.5 232.7,344.4 233.8,344.3 234.9,344.2 236.0,344.0 237.1,343.9 238.2,343.7 239.3,343.6 240.5,343.4 241.6,343.2 242.7,343.1 243.8,342.9 244.9,342.7 246.0,342.5 247.0,342.4 248.0,342.2 249.0,342.0 249.9,341.9 250.7,341.7 251.5,341.5 252.2,341.4 252.9,341.2 253.6,341.1 254.2,340.9 254.7,340.8 255.3,340.6 255.8,340.5 256.3,340.3 256.8,340.2 257.3,340.0 257.8,339.8 258.4,339.7 258.9,339.5 259.4,339.3 260.0,339.1 260.6,338.9 261.2,338.7 261.7,338.5 262.3,338.3 262.9,338.1 263.5,337.9 264.0,337.6 264.6,337.4 265.2,337.2 265.8,336.9 266.4,336.7 267.0,336.4 267.6,336.2 268.2,335.9 268.8,335.6 269.5,335.3 270.2,335.0 270.9,334.7 271.6,334.4 272.3,334.0 273.1,333.7 273.8,333.4 274.6,333.0 275.3,332.7 276.1,332.3 276.8,331.9 277.6,331.5 278.3,331.2 279.0,330.8 279.8,330.3 280.4,329.9 281.1,329.5 281.7,329.1 282.4,328.6 283.0,328.1 283.6,327.6 284.2,327.1 284.8,326.6 285.4,326.1 286.0,325.6 286.6,325.1 287.1,324.5 287.7,324.0 288.2,323.5 288.7,323.0 289.3,322.4 289.8,321.9 290.3,321.4 290.8,320.9 291.3,320.4 291.8,319.9 292.2,319.4 292.7,318.9 293.1,318.5 293.6,318.0 294.0,317.5 294.4,317.0 294.9,316.5 295.3,316.0 295.7,315.5 296.1,315.0 296.5,314.4 296.9,313.9 297.3,313.3 297.7,312.7 298.1,312.1 298.5,311.5 298.9,310.8 299.3,310.1 299.7,309.4 300.0,308.8 300.4,308.1 300.8,307.4 301.1,306.7 301.5,306.0 301.8,305.4 302.2,304.7 302.5,304.1 302.8,303.5 303.1,302.9 303.4,302.4 303.7,301.8 303.9,301.3 304.2,300.8 304.5,300.4 304.7,299.9 304.9,299.4 305.2,299.0 305.4,298.6 305.6,298.1 305.8,297.7 306.0,297.2 306.2,296.8 306.4,296.3 306.6,295.8 306.8,295.3 307.0,294.8 307.1,294.3 307.3,293.8 307.4,293.3 307.6,292.8 307.7,292.3 307.9,291.8 308.0,291.3 308.1,290.7 308.2,290.2 308.3,289.6 308.5,289.1 308.6,288.5 308.7,287.8 308.9,287.2 309.0,286.5 309.2,285.8 309.3,285.0 309.5,284.2 309.6,283.4 309.8,282.5 310.0,281.7 310.1,280.8 310.3,279.9 310.5,279.0 310.6,278.1 310.8,277.2 310.9,276.3 311.1,275.4 311.2,274.6 311.4,273.8 311.5,273.0 311.6,272.3 311.7,271.5 311.8,270.9 311.9,270.2 312.0,269.6 312.1,269.0 312.2,268.3 312.3,267.7 312.3,267.1 312.4,266.5 312.5,265.8 312.6,265.1 312.7,264.4 312.7,263.6 312.8,262.8 312.9,262.0 313.0,261.1 313.1,260.1 313.2,259.1 313.3,258.1 313.3,257.0 313.4,255.8 313.5,254.7 313.6,253.6 313.7,252.4 313.8,251.3 313.9,250.1 314.0,249.0 314.0,248.0 314.1,246.9 314.2,245.9 314.3,245.0 314.4,244.1 314.5,243.2 314.5,242.3 314.6,241.5 314.7,240.7 314.8,239.8 314.8,239.1 314.9,238.3 315.0,237.5 315.0,236.8 315.1,236.1 315.2,235.4 315.3,234.8 315.3,234.2 315.4,233.6 315.5,233.0 315.6,232.5 315.7,232.0 315.8,231.6 315.8,231.2 315.9,230.8 316.0,230.5 316.1,230.2 316.2,229.9 316.3,229.6 316.4,229.3 316.5,229.0 316.6,228.8 316.7,228.5 316.8,228.2 316.9,227.8 317.0,227.5 317.1,227.1 317.2,226.8 317.3,226.4 317.4,226.0 317.6,225.6 317.7,225.2 317.8,224.8 317.9,224.4 318.0,224.0 318.1,223.6 318.3,223.2 318.4,222.8 318.5,222.4 318.6,222.1 318.7,221.7 318.8,221.4 318.9,221.1 319.0,220.8 319.1,220.5 319.2,220.3 319.2,220.0 319.3,219.8 319.4,219.6 319.5,219.3 319.6,219.1 319.6,218.9 319.7,218.6 319.8,218.3 319.9,218.1 320.0,217.8 320.1,217.4 320.2,217.1 320.3,216.7 320.4,216.4 320.5,216.0 320.6,215.6 320.7,215.2 320.8,214.8 320.9,214.4 321.0,214.0 321.1,213.5 321.2,213.1 321.4,212.6 321.5,212.1 321.7,211.6 321.9,211.0 322.1,210.4 322.4,209.8 322.7,209.1 323.0,208.4 323.4,207.6 323.8,206.8 324.2,205.9 324.7,205.0 325.1,204.1 325.6,203.2 326.1,202.3 326.5,201.4 327.0,200.5 327.4,199.7 327.8,198.9 328.2,198.1 328.6,197.4 328.9,196.8 329.2,196.2 329.4,195.7 329.7,195.2 329.9,194.8 330.1,194.4 330.2,194.0 330.4,193.7 330.5,193.3 330.7,193.0 330.8,192.7 331.0,192.4 331.1,192.1 331.3,191.9 331.5,191.6 331.7,191.3 331.9,191.0 332.1,190.7 332.4,190.5 332.6,190.2 332.9,190.0 333.1,189.8 333.4,189.6 333.7,189.3 334.0,189.2 334.2,189.0 334.5,188.7 334.8,188.5 335.1,188.3 335.4,188.1 335.6,187.8 335.9,187.6 336.2,187.3 336.5,187.0 336.7,186.7 337.0,186.3 337.3,185.9 337.5,185.5 337.8,185.2 338.0,184.8 338.3,184.3 338.6,183.9 338.8,183.6 339.1,183.2 339.4,182.8 339.7,182.4 340.0,182.1 340.3,181.8 340.6,181.5 340.9,181.2 341.3,181.0 341.6,180.7 342.0,180.5 342.4,180.3 342.8,180.1 343.2,179.9 343.6,179.7 343.9,179.5 344.3,179.4 344.7,179.2 345.1,179.1 345.4,178.9 345.8,178.8 346.1,178.7 346.4,178.6 346.7,178.5 347.0,178.4 347.2,178.4 347.5,178.3 347.7,178.3 347.9,178.2 348.1,178.2 348.4,178.2 348.6,178.2 348.8,178.2 349.0,178.2 349.2,178.2 349.4,178.2 349.6,178.2 349.8,178.2 350.0,178.2 350.2,178.2 350.4,178.1 350.5,178.1 350.6,178.0 350.7,178.0 350.9,177.9 351.0,177.9 351.1,177.8 351.2,177.8 351.4,177.8 351.6,177.8 351.8,177.8 352.1,177.9 352.4,178.0 352.8,178.1 353.2,178.3 353.7,178.5 354.3,178.8 355.0,179.1 355.7,179.4 356.4,179.8 357.3,180.2 358.1,180.6 358.9,181.0 359.8,181.5 360.6,181.9 361.4,182.4 362.2,182.8 363.0,183.3 363.6,183.7 364.3,184.1 364.8,184.5 365.3,184.9 365.7,185.3 366.1,185.6 366.4,186.0 366.7,186.4 366.9,186.8 367.2,187.1 367.4,187.5 367.6,187.9 367.8,188.2 368.0,188.6 368.2,188.9 368.4,189.3 368.6,189.6 368.8,190.0 369.1,190.3 369.4,190.6 369.6,190.9 369.9,191.2 370.1,191.4 370.4,191.7 370.6,191.9 370.9,192.1 371.1,192.4 371.4,192.6 371.7,192.9 371.9,193.1 372.2,193.4 372.5,193.8 372.8,194.1 373.2,194.5 373.5,195.0 373.9,195.5 374.2,196.0 374.6,196.6 375.1,197.2 375.5,197.9 375.9,198.6 376.4,199.3 376.8,200.0 377.3,200.7 377.7,201.4 378.2,202.1 378.6,202.8 379.1,203.5 379.5,204.2 379.9,204.9 380.3,205.5 380.7,206.1 381.1,206.7 381.5,207.4 381.9,208.0 382.2,208.6 382.6,209.2 383.0,209.8 383.4,210.4 383.7,211.0 384.1,211.6 384.4,212.2 384.8,212.7 385.1,213.3 385.5,213.8 385.8,214.3 386.1,214.8 386.4,215.3 386.7,215.7 387.0,216.1 387.3,216.5 387.6,216.8 387.8,217.2 388.1,217.5 388.3,217.8 388.6,218.2 388.8,218.5 389.1,218.8 389.4,219.1 389.6,219.5 389.9,219.8 390.1,220.2 390.4,220.6 390.7,221.0 390.9,221.4 391.2,221.7 391.4,222.1 391.6,222.4 391.9,222.8 392.1,223.2 392.3,223.5 392.6,223.9 392.8,224.4 393.1,224.8 393.4,225.3 393.7,225.9 394.1,226.4 394.4,227.1 394.8,227.8 395.2,228.6 395.7,229.4 396.1,230.4 396.6,231.4 397.1,232.4 397.7,233.5 398.2,234.6 398.8,235.8 399.3,236.9 399.9,238.0 400.5,239.2 401.1,240.3 401.6,241.4 402.2,242.4 402.8,243.4 403.3,244.3 403.8,245.2 404.3,245.9" stroke="#008000" stroke-dasharray="10.3 11.0 1.6 11.0 1.6 12.1" stroke-dashoffset="47.20"/>
<path d="M404.3,245.9 404.4,246.0 404.9,246.8 405.4,247.5 406.0,248.3 406.5,249.0 407.0,249.7 407.6,250.4 408.1,251.1 408.7,251.8 409.2,252.5 409.8,253.2 410.3,253.9 410.9,254.7 411.4,255.5 412.0,256.3 412.6,257.2 413.2,258.1 413.8,259.1 414.5,260.1 415.1,261.2 415.8,262.2 416.5,263.3 417.1,264.4 417.8,265.4 418.4,266.5 419.0,267.4 419.6,268.4 420.2,269.3 420.7,270.1 421.2,270.8 421.7,271.5 422.1,272.1 422.5,272.6 422.9,273.0 423.2,273.3 423.5,273.6 423.7,273.8 424.0,274.1 424.2,274.2 424.5,274.4 424.7,274.6 424.9,274.7 425.1,274.9 425.4,275.1 425.6,275.3 425.8,275.6 426.1,275.9 426.4,276.2 426.6,276.6 426.8,276.9 427.1,277.3 427.3,277.7 427.5,278.0 427.8,278.4 428.0,278.8 428.2,279.2 428.5,279.6 428.7,280.1 429.0,280.5 429.3,280.9 429.7,281.4 430.0,281.9 430.4,282.4 430.8,282.9 431.3,283.5 431.8,284.1 432.3,284.7 432.9,285.4 433.5,286.0 434.1,286.7 434.7,287.4 435.3,288.0 435.9,288.7 436.5,289.4 437.0,290.0 437.6,290.6 438.1,291.2 438.6,291.7 439.1,292.2 439.5,292.7 439.9,293.1 440.3,293.5 440.7,293.9 441.1,294.3 441.4,294.6 441.8,295.0 442.1,295.3 442.4,295.6 442.8,295.9 443.1,296.2 443.4,296.5 443.7,296.8 444.0,297.1 444.3,297.3 444.6,297.6 444.9,297.9 445.2,298.1 445.5,298.3 445.8,298.5 446.0,298.8 446.3,298.9 446.6,299.1 446.8,299.3 447.1,299.5 447.3,299.7 447.6,299.9 447.8,300.1 448.1,300.2 448.4,300.5 448.6,300.7 448.9,300.9 449.2,301.1 449.4,301.4 449.7,301.6 449.9,301.9 450.2,302.1 450.4,302.4 450.7,302.6 450.9,302.9 451.2,303.2 451.5,303.5 451.8,303.7 452.0,304.0 452.3,304.3 452.6,304.6 453.0,304.9 453.3,305.2 453.7,305.5 454.0,305.8 454.4,306.2 454.9,306.5 455.3,306.9 455.7,307.3 456.2,307.7 456.6,308.0 457.1,308.4 457.5,308.8 457.9,309.1 458.4,309.5 458.8,309.8 459.2,310.1 459.6,310.4 460.0,310.7 460.3,311.0 460.7,311.2 461.0,311.4 461.2,311.5 461.5,311.7 461.7,311.9 461.9,312.0 462.2,312.1 462.4,312.3 462.7,312.4 463.0,312.6 463.3,312.8 463.7,313.0 464.1,313.2 464.6,313.5 465.1,313.8 465.7,314.1 466.3,314.5 467.1,315.0 467.8,315.4 468.6,315.9 469.5,316.4 470.3,316.9 471.2,317.4 472.1,317.9 473.0,318.4 473.8,319.0 474.6,319.4 475.4,319.9 476.2,320.3 476.9,320.7 477.5,321.1 478.1,321.4 478.6,321.7 479.1,322.0 479.6,322.3 480.0,322.5 480.4,322.8 480.8,323.0 481.2,323.2 481.6,323.4 481.9,323.6 482.3,323.8 482.6,324.0 483.0,324.1 483.3,324.3 483.6,324.5 484.0,324.7 484.4,324.9 484.7,325.1 485.0,325.2 485.3,325.4 485.7,325.6 486.0,325.7 486.3,325.9 486.6,326.0 486.8,326.2 487.1,326.3 487.4,326.4 487.8,326.6 488.1,326.7 488.4,326.9 488.7,327.0 489.1,327.2 489.5,327.4 489.9,327.5 490.3,327.7 490.7,327.9 491.1,328.0 491.5,328.2 491.9,328.4 492.4,328.6 492.8,328.7 493.2,328.9 493.6,329.1 494.0,329.2 494.4,329.4 494.8,329.5 495.2,329.7 495.6,329.8 496.0,329.9 496.3,330.0 496.6,330.1 496.9,330.2 497.2,330.3 497.5,330.4 497.8,330.4 498.1,330.5 498.4,330.6 498.7,330.6 499.0,330.7 499.3,330.8 499.6,330.9 500.0,331.0 500.3,331.1 500.7,331.2 501.1,331.3 501.5,331.5 501.8,331.6 502.2,331.7 502.6,331.9 503.0,332.0 503.4,332.2 503.8,332.3 504.2,332.5 504.6,332.6 505.1,332.8 505.6,333.0 506.2,333.1 506.7,333.3 507.3,333.5 508.0,333.7 508.7,333.9 509.5,334.1 510.4,334.3 511.3,334.6 512.3,334.8 513.3,335.0 514.3,335.3 515.3,335.5 516.3,335.8 517.3,336.0 518.3,336.3 519.3,336.5 520.2,336.7 521.0,336.9 521.8,337.1 522.5,337.3 523.1,337.5 523.7,337.6 524.2,337.8 524.7,337.9 525.1,338.0 525.5,338.1 525.8,338.2 526.2,338.4 526.5,338.5 526.8,338.6 527.1,338.6 527.4,338.7 527.7,338.8 528.1,338.9 528.4,339.0 528.8,339.1 529.2,339.2 529.6,339.3 530.0,339.3 530.3,339.4 530.7,339.5 531.1,339.6 531.5,339.6 531.9,339.7 532.2,339.8 532.6,339.8 533.0,339.9 533.4,339.9 533.8,340.0 534.2,340.1 534.6,340.1 535.0,340.2 535.4,340.3 535.9,340.3 536.4,340.4 536.9,340.5 537.4,340.6 537.9,340.7 538.4,340.7 538.9,340.8 539.4,340.9 539.9,341.0 540.3,341.0 540.7,341.1 541.1,341.2 541.5,341.2 541.8,341.3 542.0,341.3" stroke="#008000" stroke-dasharray="10.3 11.0 1.6 11.0 1.6 12.1" stroke-dashoffset="0.00"/>
</g>
<rect x="83" y="15" width="459" height="341" fill="none" stroke="#000" stroke-width="2"/>
<path d="M83.0,356 V359.5 M128.9,356 V363.0 M174.8,356 V359.5 M220.7,356 V363.0 M266.6,356 V359.5 M312.5,356 V363.0 M358.4,356 V359.5 M404.3,356 V363.0 M450.2,356 V359.5 M496.1,356 V363.0 M542.0,356 V359.5 M83,356.0 H76.0 M83,270.8 H79.5 M83,185.5 H76.0 M83,100.2 H79.5 M83,15.0 H76.0" stroke="#000" stroke-width="2" fill="none"/>
<text x="128.9" y="381" font-family="'Liberation Sans', Arial, Helvetica, sans-serif" font-size="18.5" text-anchor="middle">-4</text>
<text x="220.7" y="381" font-family="'Liberation Sans', Arial, Helvetica, sans-serif" font-size="18.5" text-anchor="middle">-2</text>
<text x="312.5" y="381" font-family="'Liberation Sans', Arial, Helvetica, sans-serif" font-size="18.5" text-anchor="middle">0</text>
<text x="404.3" y="381" font-family="'Liberation Sans', Arial, Helvetica, sans-serif" font-size="18.5" text-anchor="middle">2</text>
<text x="496.1" y="381" font-family="'Liberation Sans', Arial, Helvetica, sans-serif" font-size="18.5" text-anchor="middle">4</text>
<text x="72.4" y="361.4" font-family="'Liberation Sans', Arial, Helvetica, sans-serif" font-size="18.5" text-anchor="end">0.0</text>
<text x="72.4" y="190.9" font-family="'Liberation Sans', Arial, Helvetica, sans-serif" font-size="18.5" text-anchor="end">0.3</text>
<text x="72.4" y="20.4" font-family="'Liberation Sans', Arial, Helvetica, sans-serif" font-size="18.5" text-anchor="end">0.6</text>
<text x="315.1" y="406.5" font-family="'Liberation Sans', Arial, Helvetica, sans-serif" font-size="21" text-anchor="middle">x</text>
<text transform="translate(22.3,215.8) rotate(-90)" font-family="'DejaVu Math TeX Gyre', 'STIX Two Math', 'Latin Modern Math', FreeSerif, 'Noto Sans Math', serif" font-size="21">&#x1D4A2;</text>
<text transform="translate(21.1,200) rotate(-90)" font-family="'Liberation Sans', Arial, Helvetica, sans-serif" font-size="18.5"><tspan x="2.4" y="-1.5" font-size="20.5">(</tspan><tspan x="7.1" y="0.0" font-size="18.5">x</tspan><tspan x="16.8" y="0.0" font-size="18.5">,</tspan><tspan x="22.3" y="0.0" font-size="18.5">x</tspan><tspan x="33.3" y="-1.2" font-size="18.5">'</tspan><tspan x="37.0" y="0.0" font-size="18.5">,</tspan><tspan x="42.3" y="0.0" font-size="18.5">t</tspan><tspan x="50.0" y="-1.5" font-size="20.5">)</tspan></text>
<path d="M99.9,43.3 H139.1" stroke="#000" stroke-width="3.8" stroke-linecap="round"/>
<text x="143.5" y="49.3" font-family="'Liberation Sans', Arial, Helvetica, sans-serif" font-size="15.6" textLength="171.8" lengthAdjust="spacingAndGlyphs" xml:space="preserve"><tspan font-family="'Liberation Serif', 'DejaVu Serif', serif" font-size="17">γ</tspan> = 1, <tspan font-family="'Liberation Serif', 'DejaVu Serif', serif" font-size="17">η</tspan> = 1/2,  <tspan font-family="'Liberation Serif', 'DejaVu Serif', serif" font-size="17">μ</tspan> = 3/2</text>
<path d="M99.9,67.3 H139.1" stroke="#f00" stroke-width="3.8" stroke-linecap="round" stroke-dasharray="15.2 16.3"/>
<text x="143.5" y="73.4" font-family="'Liberation Sans', Arial, Helvetica, sans-serif" font-size="15.6" textLength="155" lengthAdjust="spacingAndGlyphs" xml:space="preserve"><tspan font-family="'Liberation Serif', 'DejaVu Serif', serif" font-size="17">γ</tspan> = 1, <tspan font-family="'Liberation Serif', 'DejaVu Serif', serif" font-size="17">η</tspan> = 1/2,  <tspan font-family="'Liberation Serif', 'DejaVu Serif', serif" font-size="17">μ</tspan> = 1</text>
<path d="M99.9,91.0 H139.1" stroke="#00f" stroke-width="3.8" stroke-linecap="round" stroke-dasharray="17.9 9.1 3.5 9.1"/>
<text x="143.5" y="97.4" font-family="'Liberation Sans', Arial, Helvetica, sans-serif" font-size="15.6" textLength="170.2" lengthAdjust="spacingAndGlyphs" xml:space="preserve"><tspan font-family="'Liberation Serif', 'DejaVu Serif', serif" font-size="17">γ</tspan> = 1/2,  <tspan font-family="'Liberation Serif', 'DejaVu Serif', serif" font-size="17">η</tspan> =1/2,  <tspan font-family="'Liberation Serif', 'DejaVu Serif', serif" font-size="17">μ</tspan> = 1</text>
<path d="M99.9,115.0 H139.1" stroke="#008000" stroke-width="3.8" stroke-linecap="round" stroke-dasharray="13.2 9.3 3.6 9.1 3.6 9.1"/>
<text x="143.5" y="121.1" font-family="'Liberation Sans', Arial, Helvetica, sans-serif" font-size="15.6" textLength="178" lengthAdjust="spacingAndGlyphs" xml:space="preserve"><tspan font-family="'Liberation Serif', 'DejaVu Serif', serif" font-size="17">γ</tspan> =  1, <tspan font-family="'Liberation Serif', 'DejaVu Serif', serif" font-size="17">η</tspan> = -1/2, <tspan font-family="'Liberation Serif', 'DejaVu Serif', serif" font-size="17">μ</tspan> = 3/2</text>
</svg>
</body></html>
